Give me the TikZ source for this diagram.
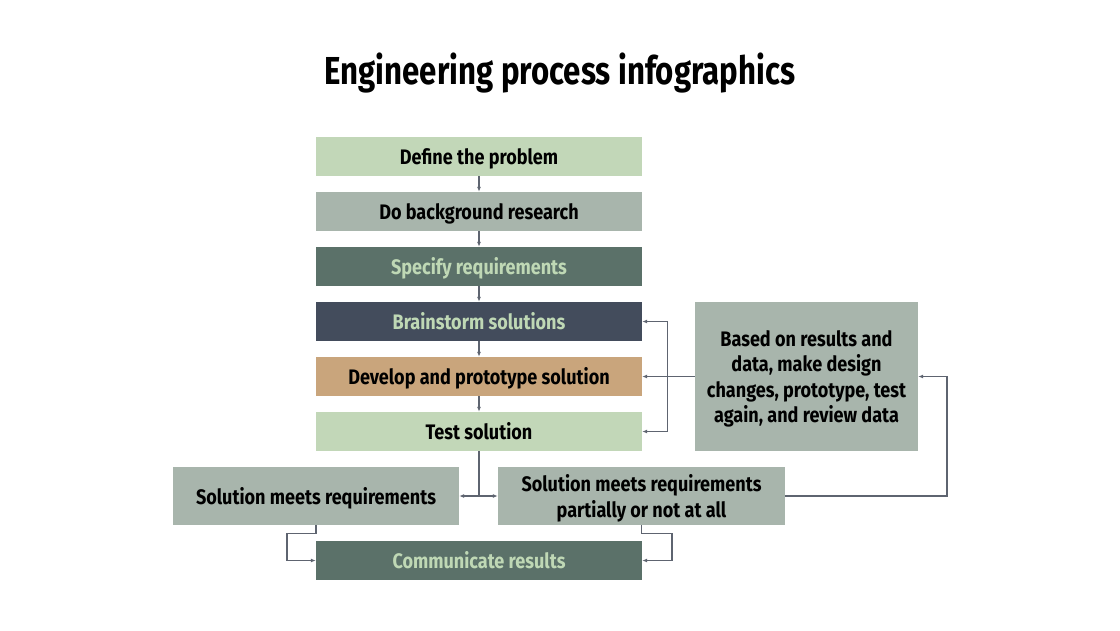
\documentclass[tikz,border=0pt]{standalone}
\usepackage{fontspec}
\setmainfont{Fira Sans}
\newfontfamily\boxfont{Fira Sans}[FakeStretch=0.86]
\newfontfamily\titlefont{Fira Sans}[FakeStretch=0.8]
\usetikzlibrary{arrows.meta,calc}
\definecolor{cLight}{HTML}{C2D7B8}
\definecolor{cGrey}{HTML}{A8B5AC}
\definecolor{cDark}{HTML}{5B7169}
\definecolor{cSlate}{HTML}{434C5C}
\definecolor{cTan}{HTML}{C9A57C}
\definecolor{cLine}{HTML}{5E6470}
\definecolor{cLtxt}{HTML}{BFD8B5}
\begin{document}
\begin{tikzpicture}[x=1pt,y=-1pt,
  stepbox/.style={inner sep=0pt,minimum width=326pt,minimum height=39pt,
    text height=15.5pt,text depth=0pt,
    font=\boxfont\bfseries\fontsize{21}{25}\selectfont,align=center},
  sidebox/.style={inner sep=0pt,fill=cGrey,text=black,text depth=0pt,
    font=\boxfont\bfseries\fontsize{21}{25.5}\selectfont,align=center},
  arr/.style={draw=cLine,line width=1.1pt,-{Latex[length=5pt,width=4pt]}},
  ln/.style={draw=cLine,line width=1.1pt}]
\useasboundingbox (0,0) rectangle (1120,630);
\fill[white] (0,0) rectangle (1120,630);
\node[font=\titlefont\bfseries\fontsize{39}{44}\selectfont] (title) at (560,73) {Engineering process infographics};
\node[stepbox,fill=cLight,text=black] (define) at (479,156.5) {Define the problem};
\node[stepbox,fill=cGrey,text=black] (research) at (479,211.5) {Do background research};
\node[stepbox,fill=cDark,text=cLtxt] (specify) at (479,266.5) {Specify requirements};
\node[stepbox,fill=cSlate,text=cLtxt] (brain) at (479,321.5) {Brainstorm solutions};
\node[stepbox,fill=cTan,text=black] (develop) at (479,376.5) {Develop and prototype solution};
\node[stepbox,fill=cLight,text=black] (test) at (479,431.5) {Test solution};
\node[stepbox,fill=cDark,text=cLtxt] (comm) at (479,560.5) {Communicate results};
\node[sidebox,minimum width=286pt,minimum height=58pt] (meets) at (316,496) {Solution meets requirements};
\node[sidebox,minimum width=287pt,minimum height=58pt] (partial) at (641.5,496) {Solution meets requirements\\partially or not at all};
\node[sidebox,minimum width=223pt,minimum height=149pt] (feedback) at (806.5,376.5) {Based on results and\\data, make design\\changes, prototype, test\\again, and review data};
\draw[arr] (define) -- (research);
\draw[arr] (research) -- (specify);
\draw[arr] (specify) -- (brain);
\draw[arr] (brain) -- (develop);
\draw[arr] (develop) -- (test);
\draw[ln] (test.south) -- (479,496) coordinate (split);
\draw[arr] (split) -- (meets.east);
\draw[arr] (split) -- (partial.west);
\draw[arr] (meets.south) -- ++(0,8) -- ++(-29,0) |- (comm.west);
\draw[arr] (partial.south) -- ++(0,8) -- ++(30.5,0) |- (comm.east);
\draw[arr] (partial.east) -- (947,496) |- (feedback.east);
\coordinate (j) at ($(feedback.west)+(-27,0)$);
\draw[arr] (feedback.west) -- (develop.east);
\draw[arr] (j) |- (brain.east);
\draw[arr] (j) |- (test.east);
\end{tikzpicture}
\end{document}
